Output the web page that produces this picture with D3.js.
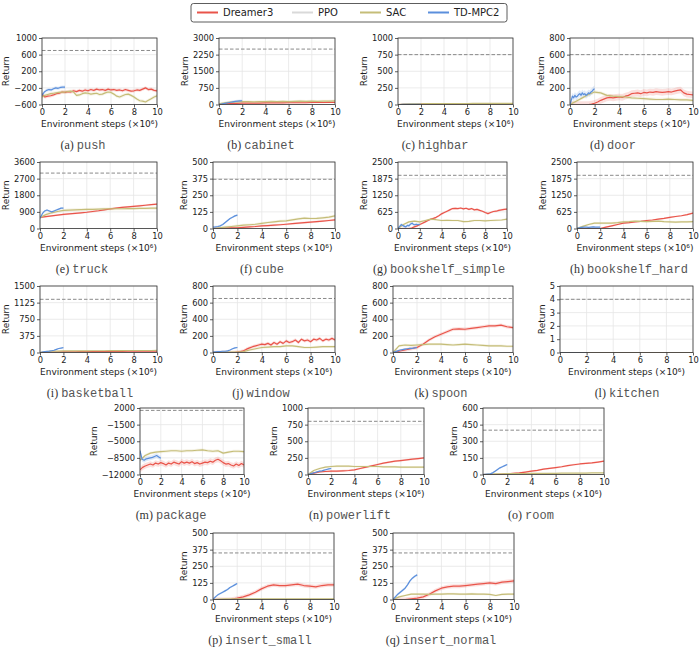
<!DOCTYPE html>
<html><head><meta charset="utf-8">
<script src="https://cdn.jsdelivr.net/npm/d3@7"></script>
<style>body{margin:0;background:#fff} svg{display:block}</style>
</head><body><svg id="c" width="700" height="650"></svg>
<script>
// ---------------- DATA ----------------
const seriesNames = ["Dreamer3", "PPO", "SAC", "TD-MPC2"];
const seriesColors = ["#e9544a", "#d9d9d9", "#c5bd78", "#5b8fdc"];
const taskLetters = ["a","b","c","d","e","f","g","h","i","j","k","l","m","n","o","p","q"];
const taskNames = ["push","cabinet","highbar","door","truck","cube","bookshelf_simple","bookshelf_hard",
  "basketball","window","spoon","kitchen","package","powerlift","room","insert_small","insert_normal"];
const yTickValues = [
  [-600,-200,200,600,1000], [0,750,1500,2250,3000], [0,250,500,750,1000], [0,200,400,600,800],
  [0,900,1800,2700,3600], [0,125,250,375,500], [0,625,1250,1875,2500], [0,625,1250,1875,2500],
  [0,375,750,1125,1500], [0,200,400,600,800], [0,200,400,600,800], [0,1,2,3,4,5],
  [-12000,-8500,-5000,-1500,2000], [0,250,500,750,1000], [0,150,300,450,600], [0,125,250,375,500], [0,125,250,375,500]
];
const expertLevel = [700, 2500, 750, 600, 3000, 370, 2000, 2000, 1200, 650, 650, 4, 1500, 800, 400, 350, 350];
const xTickValues = [0, 2, 4, 6, 8, 10];
const stepsMax = 10;      // x 10^6 environment steps
const tdmpc2StepsMax = 2; // TD-MPC2 only runs to 2 x 10^6

const dreamer3Returns = [
  [-350,-420,-400,-390,-370,-340,-330,-300,-310,-290,-300,-270,-290,-260,-280,-250,-270,-240,-260,-230,-250,-240,-260,-230,-250,-240,-260,-250,-270,-240,-260,-280,-270,-250,-260,-230,-200,-240,-230,-260,-270],
  [30,40,50,50,60,60,60,60,70,70,70,70,80,80,80,80,90,90,90,100,100],
  [0,2,3,4,5,5,5,6,6,6,7,7,7,8,8,8,8,9,9,9,10],
  [0,0,0,0,0,0,0,5,15,30,50,65,80,85,80,85,90,85,100,110,130,135,140,130,145,140,150,145,155,150,145,150,155,150,160,170,175,140,125,120,115],
  [600,640,680,720,760,790,820,850,880,920,960,1010,1060,1100,1140,1170,1200,1230,1260,1290,1320],
  [0,2,3,4,5,8,12,15,20,22,25,28,32,36,40,44,48,52,56,60,65],
  [0,0,0,0,0,20,60,100,150,200,250,300,350,380,420,480,550,600,650,700,750,760,750,770,740,760,720,750,700,720,680,650,600,560,600,640,650,680,700,720,730],
  [0,0,0,0,0,50,100,150,200,220,250,270,300,320,350,380,420,450,480,520,580],
  [0,5,10,10,12,15,15,18,20,20,22,22,25,25,25,28,28,30,30,30,32],
  [0,0,0,0,0,0,0,0,5,10,20,40,55,70,80,90,100,95,110,90,120,100,130,110,140,120,130,150,120,160,140,150,130,160,150,170,140,160,150,170,150],
  [0,15,30,45,60,100,150,190,220,250,280,285,280,290,300,310,320,320,330,310,300],
  [0,0,0,0,0,0,0,0,0,0,0,0,0,0,0,0,0,0,0,0,0],
  [-11000,-10500,-10200,-10000,-9800,-10000,-9600,-9800,-9500,-9700,-10000,-9600,-9800,-9400,-9600,-9800,-9300,-9600,-9400,-9600,-9300,-9700,-9500,-9800,-9600,-9400,-9500,-9200,-9400,-9000,-8800,-9100,-9500,-9800,-9700,-10000,-10200,-9800,-10100,-9700,-10000],
  [0,20,40,45,50,50,55,60,70,90,110,130,150,170,185,200,210,220,230,240,250],
  [0,0,0,2,5,10,15,22,30,38,48,55,62,70,80,88,95,100,105,112,120],
  [0,0,0,2,10,20,35,55,80,100,110,105,105,110,115,105,100,95,105,110,110],
  [0,0,0,5,10,20,40,65,85,95,100,100,105,110,115,120,125,120,130,135,140]
];
const sacReturns = [
  [-420,-380,-360,-340,-330,-320,-310,-300,-300,-290,-280,-300,-380,-370,-340,-320,-330,-350,-340,-330,-360,-350,-320,-300,-310,-350,-400,-420,-390,-360,-350,-380,-420,-470,-510,-520,-540,-500,-460,-420,-390],
  [30,80,110,120,130,130,120,130,130,140,130,140,130,140,150,140,150,140,150,150,160],
  [0,5,8,10,10,12,12,12,14,14,15,15,15,16,16,16,17,17,18,18,18],
  [0,40,80,120,150,140,110,100,95,90,80,75,70,65,60,60,65,60,55,55,50],
  [600,750,850,920,980,1000,1010,1020,1030,1040,1050,1060,1060,1070,1070,1080,1080,1090,1090,1100,1100],
  [0,5,10,15,20,25,28,32,38,45,50,55,58,65,72,78,75,76,80,85,95],
  [0,150,250,280,250,300,350,330,300,310,300,300,260,270,300,300,290,300,310,320,350],
  [0,80,150,200,200,200,200,220,250,260,280,270,260,270,280,260,250,240,250,250,260],
  [0,20,30,30,35,35,35,38,38,40,40,40,42,42,42,45,45,45,45,45,48],
  [0,2,5,5,5,10,30,45,60,65,70,70,80,80,70,60,60,65,70,70,70],
  [0,80,90,85,90,95,100,100,100,95,90,95,100,95,90,85,80,80,80,75,75],
  [0,0,0,0,0,0,0,0,0,0,0,0,0,0,0,0,0,0,0,0,0],
  [-9000,-8000,-7500,-7300,-7200,-7100,-7000,-7000,-7100,-7000,-7000,-6900,-6800,-7000,-7100,-7000,-7500,-7300,-7100,-7100,-7200],
  [0,60,90,110,120,125,125,125,120,120,120,120,120,115,115,115,110,110,110,110,110],
  [0,3,5,6,7,8,8,9,10,10,10,11,11,12,12,12,13,13,14,14,15],
  [0,3,4,5,5,5,5,5,5,5,5,5,5,5,5,5,5,5,5,5,5],
  [0,20,30,40,40,40,38,40,40,42,42,40,40,42,40,40,38,30,38,40,40]
];
const tdmpc2Returns = [
  [-380,-300,-260,-240,-250,-220,-200,-210,-190,-180,-180],
  [0,20,40,60,80,100,120,140,150,160,170],
  [0,0,1,1,1,2,2,2,2,3,3],
  [0,50,100,80,110,90,100,120,130,110,140,120,130,110,120,140,130,150,160,180,190],
  [550,800,950,1000,950,900,950,1000,1050,1100,1100],
  [10,12,15,20,30,45,60,75,85,95,100],
  [0,50,100,150,120,100,80,60,90,120,100,150,180,200,160,140,150,160,140,150,150],
  [0,30,40,50,50,40,50,60,50,50,50],
  [0,10,20,25,30,40,50,70,90,100,110],
  [5,8,10,12,15,15,20,30,45,55,60],
  [0,10,20,30,35,40,45,50,50,55,60],
  [0,0,0,0,0,0,0,0,0,0,0],
  [-7000,-8800,-9000,-8700,-8600,-8500,-8400,-8200,-8000,-8300,-8600],
  [0,10,20,30,40,50,55,65,75,85,90],
  [0,2,4,6,15,30,45,60,70,80,90],
  [0,20,35,45,55,65,75,90,100,110,120],
  [0,20,40,55,70,85,110,140,160,175,185]
];
const ppoReturns = [
  null, [0,0,0,0,0,0,0,0,0,0,0], [0,0,0,0,0,0,0,0,0,0,0], [0,0,0,0,0,0,0,0,0,0,0],
  null, [0,0,0,0,0,0,0,0,0,0,0], [0,0,0,0,0,0,0,0,0,0,0], [0,0,0,0,0,0,0,0,0,0,0],
  [0,0,0,0,0,0,0,0,0,0,0], [0,0,0,0,0,0,0,0,0,0,0], [0,0,0,0,0,0,0,0,0,0,0], [0,0,0,0,0,0,0,0,0,0,0],
  null, [0,0,0,0,0,0,0,0,0,0,0], [0,0,0,0,0,0,0,0,0,0,0], [0,0,0,0,0,0,0,0,0,0,0], [0,0,0,0,0,0,0,0,0,0,0]
];
const dreamer3Spread = [40,30,5,40,50,8,40,30,10,20,20,0,600,15,8,15,15];
const sacSpread      = [40,60,5,20,80,10,40,40,10,15,15,0,300,15,4,3,8];
const tdmpc2Spread   = [40,60,2,40,50,8,60,20,10,10,10,0,500,10,8,8,10];

// ---------------- LAYOUT ----------------
// [plot left, plot right, row, caption centre x]
const panelLayout = [
  [42,157,0,83],[219,335,0,261],[398,513,0,435],[570,693,0,613],
  [40,157,1,82],[213,335,1,262],[398,507,1,439],[577,693,1,629],
  [40,157,2,90],[213,335,2,261],[393,513,2,441],[560,693,2,627],
  [140,244,3,171],[308,424,3,350],[483,604,3,531],
  [213,334,4,260],[393,514,4,441]
];
const rowTops = [38, 162, 286, 408, 533];
const plotH = 66.5;

const svg = d3.select("#c");
const font = "DejaVu Sans, sans-serif";

function xsFor(n, maxX) { return d3.range(n).map(i => i * maxX / (n - 1)); }

taskNames.forEach((task, k) => {
  const [left, right, row, capX] = panelLayout[k];
  const top = rowTops[row], bottom = top + plotH;
  const ticks = yTickValues[k];
  const x = d3.scaleLinear().domain([0, stepsMax]).range([left, right]);
  const y = d3.scaleLinear().domain([ticks[0], ticks[ticks.length - 1]]).range([bottom, top]);
  const g = svg.append("g");
  const clipId = "clip" + k;
  svg.append("clipPath").attr("id", clipId).append("rect")
    .attr("x", left).attr("y", top).attr("width", right - left).attr("height", plotH);

  // grid
  g.append("g").selectAll("line").data(xTickValues).join("line")
    .attr("x1", d => x(d)).attr("x2", d => x(d)).attr("y1", top).attr("y2", bottom)
    .attr("stroke", "#e6e6e6").attr("stroke-width", 0.8);
  g.append("g").selectAll("line").data(ticks).join("line")
    .attr("y1", d => y(d)).attr("y2", d => y(d)).attr("x1", left).attr("x2", right)
    .attr("stroke", "#e6e6e6").attr("stroke-width", 0.8);

  const plot = g.append("g").attr("clip-path", `url(#${clipId})`);

  const seriesList = [
    {vals: dreamer3Returns[k], maxX: stepsMax, color: seriesColors[0], spread: dreamer3Spread[k]},
    {vals: ppoReturns[k], maxX: stepsMax, color: seriesColors[1], spread: 0},
    {vals: sacReturns[k], maxX: stepsMax, color: seriesColors[2], spread: sacSpread[k]},
    {vals: tdmpc2Returns[k], maxX: tdmpc2StepsMax, color: seriesColors[3], spread: tdmpc2Spread[k]}
  ];
  // bands
  seriesList.forEach(s => {
    if (!s.vals || !s.spread) return;
    const xs = xsFor(s.vals.length, s.maxX);
    const pts = s.vals.map((v, i) => [xs[i], v]);
    plot.append("path").datum(pts)
      .attr("d", d3.area().x(d => x(d[0])).y0(d => y(d[1] - s.spread)).y1(d => y(d[1] + s.spread)))
      .attr("fill", s.color).attr("fill-opacity", 0.18).attr("stroke", "none");
  });
  // lines
  seriesList.forEach(s => {
    if (!s.vals) return;
    const xs = xsFor(s.vals.length, s.maxX);
    const pts = s.vals.map((v, i) => [xs[i], v]);
    plot.append("path").datum(pts)
      .attr("d", d3.line().x(d => x(d[0])).y(d => y(d[1])))
      .attr("fill", "none").attr("stroke", s.color).attr("stroke-width", 1.2)
      .attr("stroke-linejoin", "round");
  });
  // expert level dashed line
  plot.append("line").attr("x1", left).attr("x2", right)
    .attr("y1", y(expertLevel[k])).attr("y2", y(expertLevel[k]))
    .attr("stroke", "#8a8a8a").attr("stroke-width", 1).attr("stroke-dasharray", "3.5,2");

  // frame
  g.append("rect").attr("x", left).attr("y", top).attr("width", right - left).attr("height", plotH)
    .attr("fill", "none").attr("stroke", "#333").attr("stroke-width", 0.8);

  // axes
  const yAxis = g.append("g").attr("transform", `translate(${left},0)`)
    .call(d3.axisLeft(y).tickValues(ticks).tickSize(3).tickPadding(2).tickFormat(d3.format("d")));
  const xAxis = g.append("g").attr("transform", `translate(0,${bottom})`)
    .call(d3.axisBottom(x).tickValues(xTickValues).tickSize(3).tickPadding(2).tickFormat(d3.format("d")));
  [yAxis, xAxis].forEach(a => {
    a.select(".domain").remove();
    a.selectAll("line").attr("stroke", "#333").attr("stroke-width", 0.8);
    a.selectAll("text").attr("font-family", font).attr("font-size", 8.3).attr("fill", "#222");
  });
  const bb = yAxis.node().getBBox();
  g.append("text").attr("transform", `translate(${left + bb.x - 5},${(top + bottom) / 2}) rotate(-90)`)
    .attr("text-anchor", "middle").attr("font-family", font).attr("font-size", 9).attr("fill", "#222")
    .text("Return");
  g.append("text").attr("x", (left + right) / 2).attr("y", bottom + 22)
    .attr("text-anchor", "middle").attr("font-family", font).attr("font-size", 9).attr("fill", "#222")
    .text("Environment steps (×10⁶)");

  // caption
  const cap = g.append("text").attr("x", capX).attr("y", bottom + 44).attr("text-anchor", "middle")
    .attr("font-size", 12).attr("fill", "#333");
  cap.append("tspan").attr("font-family", "Liberation Serif, serif").text(`(${taskLetters[k]}) `);
  cap.append("tspan").attr("font-family", "Liberation Mono, monospace").attr("fill", "#555").text(task);
});

// ---------------- LEGEND ----------------
const legend = svg.append("g");
legend.append("rect").attr("x", 191).attr("y", 3.5).attr("width", 316).attr("height", 18.5).attr("rx", 2.5)
  .attr("fill", "#fff").attr("stroke", "#333").attr("stroke-width", 0.8);
const legendX = [197, 292, 360, 428];
seriesNames.forEach((name, i) => {
  legend.append("line").attr("x1", legendX[i]).attr("x2", legendX[i] + 21).attr("y1", 12.5).attr("y2", 12.5)
    .attr("stroke", seriesColors[i]).attr("stroke-width", 2);
  legend.append("text").attr("x", legendX[i] + 26).attr("y", 16).attr("font-family", font)
    .attr("font-size", 10).attr("fill", "#222").text(name);
});
</script></body></html>
